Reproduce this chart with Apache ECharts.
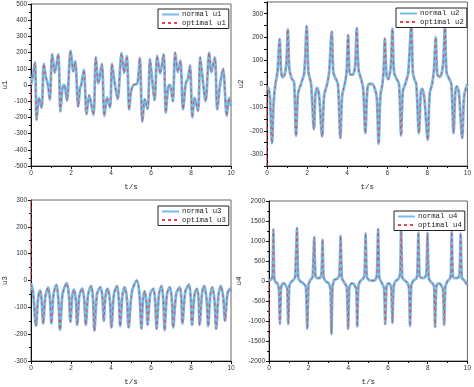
<!DOCTYPE html>
<html><head><meta charset="utf-8">
<script src="https://cdn.jsdelivr.net/npm/echarts@6/dist/echarts.min.js"></script>
<style>html,body{margin:0;padding:0;background:#fff}#c{width:474px;height:387px}</style>
</head><body><div id="c"></div>
<script>
// ---- data (t in s, value) ----
const u1T = [0,0.10,0.20,0.28,0.40,0.53,0.64,0.74,0.85,0.94,1.06,1.19,1.36,1.47,1.56,1.64,1.70,1.80,1.98,2.12,2.21,2.36,2.45,2.51,2.64,2.78,2.91,3.12,3.24,3.37,3.54,3.67,3.80,3.95,4.05,4.15,4.33,4.53,4.66,4.79,4.91,5.00,5.12,5.32,5.44,5.57,5.69,5.83,5.95,6.05,6.18,6.31,6.46,6.63,6.74,6.85,6.93,7.00,7.09,7.21,7.34,7.47,7.60,7.74,7.85,7.95,8.07,8.18,8.35,8.46,8.58,8.73,8.91,9.02,9.19,9.31,9.45,9.60,9.79,9.90,10.0];
const u1V = [0,60,140,-215,-80,-140,130,50,0,-90,190,75,190,-163,-30,0,-10,-97,212,85,145,-134,-20,0,93,-180,-62,-185,171,10,130,-190,-76,-140,130,40,-87,196,75,180,-152,-40,0,10,167,-227,-87,-148,160,40,-93,180,70,190,-170,-20,0,-20,-100,200,80,150,-150,10,40,120,-200,-80,-160,170,40,-100,200,80,170,-150,0,100,-190,-80,-130];
const u1OptStart = -100;

const u2T = [0,0.08,0.15,0.25,0.33,0.42,0.52,0.63,0.70,0.77,0.88,0.97,1.04,1.12,1.25,1.35,1.45,1.55,1.70,1.86,1.98,2.07,2.20,2.34,2.42,2.50,2.60,2.75,2.85,3.00,3.10,3.23,3.31,3.42,3.54,3.66,3.75,3.88,3.97,4.05,4.14,4.28,4.40,4.48,4.57,4.70,4.80,4.91,5.00,5.10,5.25,5.38,5.48,5.57,5.66,5.76,5.82,5.88,5.96,6.05,6.18,6.26,6.34,6.48,6.59,6.69,6.78,6.90,7.05,7.20,7.28,7.36,7.45,7.58,7.68,7.74,7.85,8.02,8.12,8.24,8.33,8.42,8.50,8.63,8.78,8.88,8.96,9.10,9.20,9.31,9.40,9.47,9.58,9.74,9.84,10.0];
const u2V = [-10,-20,-60,-253,-80,0,50,191,60,28,40,90,233,60,20,10,-221,-40,0,50,247,50,0,-193,-40,-17,-50,-224,-50,0,50,223,50,25,0,-231,-50,0,50,209,40,40,80,238,60,20,-20,-210,-30,0,0,-20,-60,-255,-50,0,60,194,40,20,80,235,50,20,0,-220,-30,0,50,255,50,20,0,-210,-30,-20,-60,-238,-40,0,60,199,40,30,80,251,50,20,0,-210,-30,-10,-40,-231,-50,0];
const u2OptStart = -350;

const u3T = [0,0.10,0.25,0.35,0.45,0.53,0.61,0.72,0.86,0.95,1.02,1.13,1.27,1.37,1.45,1.58,1.79,1.90,1.97,2.06,2.15,2.24,2.31,2.42,2.56,2.66,2.74,2.86,3.01,3.10,3.17,3.30,3.47,3.57,3.64,3.72,3.83,3.94,4.02,4.15,4.30,4.39,4.46,4.57,4.69,4.80,4.88,5.05,5.29,5.42,5.52,5.60,5.69,5.77,5.83,5.96,6.12,6.21,6.28,6.40,6.53,6.62,6.68,6.80,6.94,7.04,7.11,7.26,7.44,7.52,7.57,7.72,7.90,7.99,8.05,8.18,8.30,8.38,8.43,8.55,8.66,8.78,8.86,8.97,9.07,9.18,9.26,9.38,9.50,9.62,9.70,9.82,9.95,10.0];
const u3V = [-10,-40,-169,-70,-37,-70,-160,-60,-26,-70,-160,-50,-16,-70,-184,-50,-10,-60,-154,-60,-34,-70,-165,-55,-29,-70,-165,-50,-20,-70,-187,-50,-25,-60,-150,-60,-30,-70,-175,-50,-20,-70,-170,-55,-25,-70,-175,-40,0,-50,-179,-70,-40,-80,-165,-50,-30,-80,-180,-50,-20,-80,-185,-50,-25,-70,-175,-50,-25,-70,-160,-40,-15,-70,-165,-50,-30,-70,-165,-50,-20,-70,-170,-50,-25,-80,-180,-50,-20,-70,-150,-50,-30,-40];
const u3OptStart = 300;

const u4T = [0,0.12,0.18,0.22,0.26,0.32,0.42,0.50,0.55,0.60,0.66,0.72,0.80,0.92,0.97,1.02,1.10,1.22,1.32,1.41,1.47,1.58,1.72,1.86,1.93,1.99,2.08,2.20,2.28,2.34,2.45,2.58,2.65,2.70,2.75,2.86,3.00,3.10,3.15,3.20,3.29,3.45,3.55,3.61,3.67,3.78,3.92,3.99,4.05,4.16,4.28,4.40,4.45,4.50,4.60,4.75,4.82,4.87,4.93,5.05,5.20,5.35,5.44,5.50,5.56,5.68,5.80,5.86,5.92,6.00,6.10,6.17,6.22,6.28,6.38,6.52,6.61,6.66,6.72,6.85,6.98,7.06,7.11,7.17,7.28,7.42,7.48,7.53,7.59,7.72,7.86,7.94,7.99,8.05,8.15,8.28,8.33,8.37,8.43,8.52,8.62,8.77,8.83,8.89,9.00,9.12,9.17,9.21,9.27,9.40,9.55,9.61,9.66,9.72,9.85,10.0];
const u4V = [0,40,150,1292,100,-20,-60,-200,-1070,-200,-80,-60,-80,-200,-1070,-150,-30,20,100,1325,100,-10,-50,-150,-1193,-100,20,100,1095,120,70,80,200,1029,100,-10,-50,-200,-1325,-150,30,60,150,1128,80,-30,-150,-1200,-150,-60,-80,-200,-1136,-150,0,60,200,1193,100,20,10,20,150,1300,80,-40,-180,-1080,-150,-60,-80,-200,-1045,-150,0,50,180,1317,80,10,-50,-180,-1127,-120,10,60,200,1210,120,70,90,200,1200,80,-20,-80,-200,-1150,-150,-60,-70,-200,-1094,-150,0,60,200,1234,100,70,90,200,1185,80,10,-100];
const u4OptStart = -1400;

const xTicks = {min:0, max:10, interval:2};
// ---- build ----
const pairs = (t, v) => t.map((x, i) => [x, v[i]]);
const NORMAL = '#72bde9', OPT = '#e2474d';
const LBL = {fontFamily:'Liberation Sans', fontSize:6.5, color:'#333'};
const NAME = {fontFamily:'Liberation Mono', fontSize:7.5, color:'#222'};

const panels = [
  {key:'u1', t:u1T, v:u1V, s:u1OptStart, grid:{left:29, top:4, width:202, height:162}, y:{min:-500,max:500,interval:100}, nameGap:22, leg:{left:158, top:9}, smooth:0.3},
  {key:'u2', t:u2T, v:u2V, s:u2OptStart, grid:{left:267, top:2, width:202, height:164}, y:{min:-350,max:350,interval:50}, nameGap:22, leg:{left:396, top:8}, smooth:0.3, fmt:v => (v % 100 === 0 ? String(v) : '')},
  {key:'u3', t:u3T, v:u3V, s:u3OptStart, grid:{left:29, top:200, width:202, height:163}, y:{min:-300,max:300,interval:100}, nameGap:22, leg:{left:158, top:206}, smooth:0.3},
  {key:'u4', t:u4T, v:u4V, s:u4OptStart, grid:{left:269, top:201, width:199, height:162}, y:{min:-2000,max:2000,interval:500}, nameGap:26, leg:{left:394, top:211}, smooth:0.15},
];

const grid = [], xAxis = [], yAxis = [], series = [], legend = [];
panels.forEach((p, i) => {
  grid.push(Object.assign({show:true, borderColor:'#666', borderWidth:1, containLabel:false}, p.grid));
  xAxis.push({type:'value', gridIndex:i, min:xTicks.min, max:xTicks.max, interval:xTicks.interval,
    name:'t/s', nameLocation:'middle', nameGap:17, nameTextStyle:NAME,
    axisLine:{show:true, onZero:false, lineStyle:{color:'#111', width:1}},
    axisTick:{show:true, inside:false, length:3, lineStyle:{color:'#111'}},
    minorTick:{show:true, splitNumber:2, length:2, lineStyle:{color:'#111'}},
    splitLine:{show:false}, axisLabel:Object.assign({margin:4, formatter:v => String(v)}, LBL)});
  const yl = Object.assign({margin:4, formatter: p.fmt || (v => String(v))}, LBL);
  yAxis.push({type:'value', gridIndex:i, min:p.y.min, max:p.y.max, interval:p.y.interval,
    name:p.key, nameLocation:'middle', nameGap:p.nameGap, nameRotate:90, nameTextStyle:NAME,
    axisLine:{show:true, onZero:false, lineStyle:{color:'#111', width:1}},
    axisTick:{show:true, inside:false, length:3, lineStyle:{color:'#111'}},
    minorTick:{show:!p.fmt, splitNumber:2, length:2, lineStyle:{color:'#111'}},
    splitLine:{show:false}, axisLabel:yl});
  const data = pairs(p.t, p.v);
  series.push({type:'line', name:'normal ' + p.key, xAxisIndex:i, yAxisIndex:i, data:data,
    symbol:'none', smooth:p.smooth, clip:true, color:NORMAL,
    lineStyle:{color:NORMAL, width:2.8}});
  series.push({type:'line', name:'optimal ' + p.key, xAxisIndex:i, yAxisIndex:i, data:[[0, p.s]].concat(data),
    symbol:'none', smooth:p.smooth, clip:true, color:OPT, z:3,
    lineStyle:{color:OPT, width:1, type:[3,3]}});
  legend.push({data:['normal ' + p.key, 'optimal ' + p.key], left:p.leg.left, top:p.leg.top,
    orient:'vertical', backgroundColor:'#fff', borderColor:'#222', borderWidth:1,
    padding:[2,3,2,3], itemGap:1.5, itemWidth:17, itemHeight:8,
    itemStyle:{color:'transparent', borderColor:'transparent', borderWidth:0},
    textStyle:{fontFamily:'Liberation Mono', fontSize:7.3, color:'#222', padding:[0,0,0,-2]}});
});

const chart = echarts.init(document.getElementById('c'), null, {renderer:'canvas'});
chart.setOption({animation:false, backgroundColor:'#fff', grid, xAxis, yAxis, series, legend});
</script></body></html>
